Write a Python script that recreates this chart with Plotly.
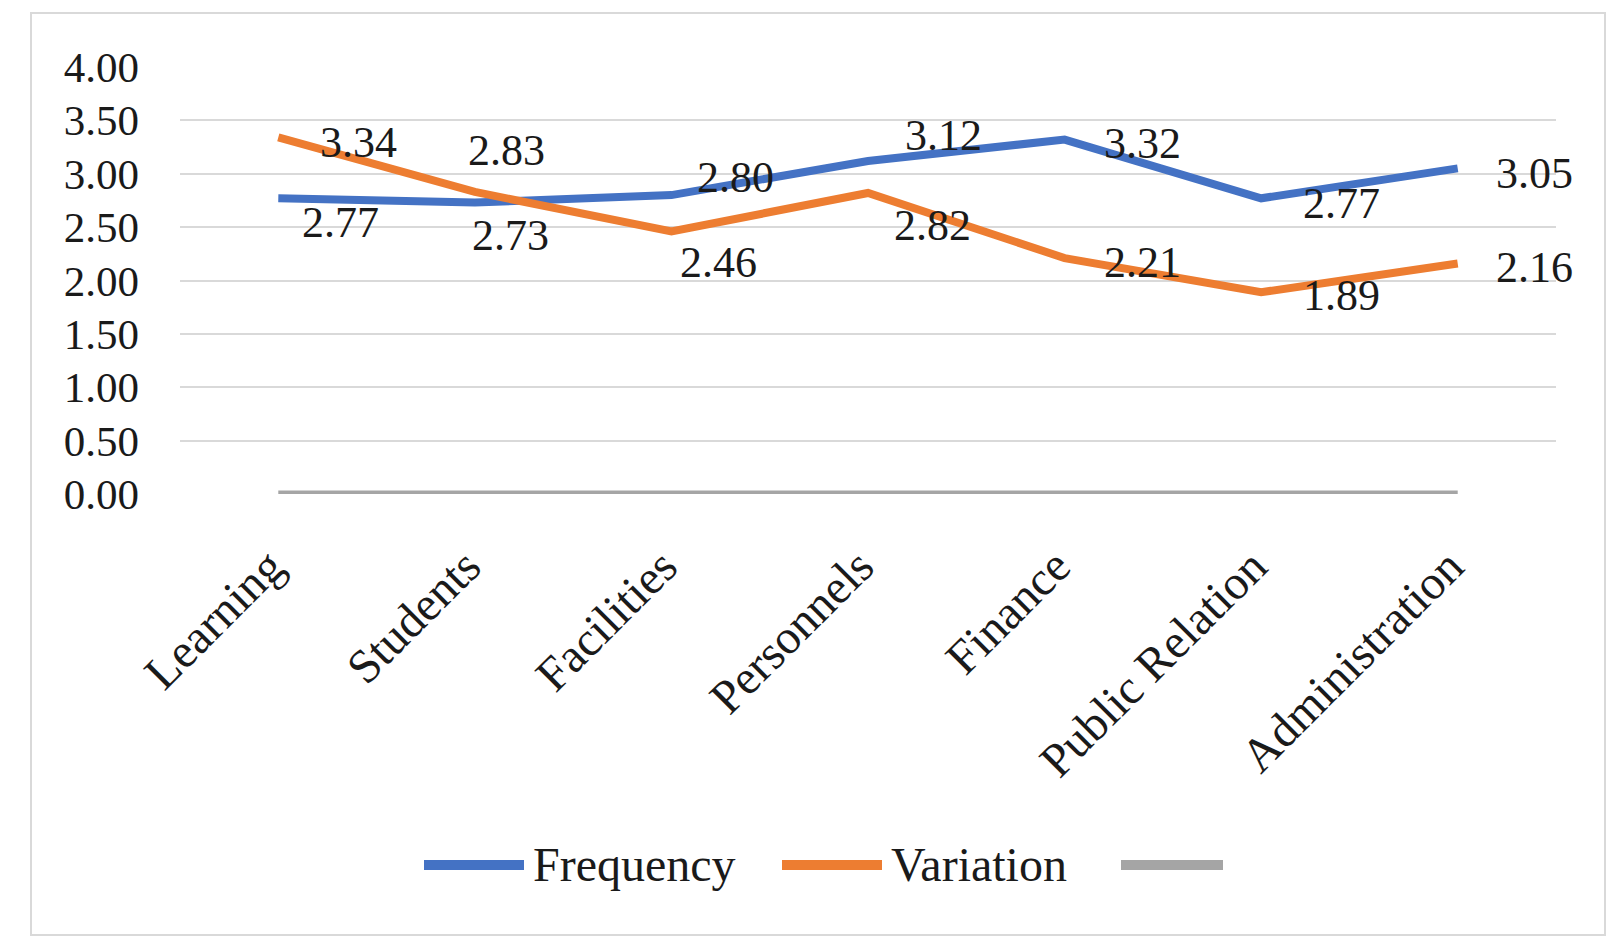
import plotly.graph_objects as go

categories = ["Learning", "Students", "Facilities", "Personnels", "Finance",
              "Public Relation", "Administration"]
frequency = [2.77, 2.73, 2.80, 3.12, 3.32, 2.77, 3.05]
variation = [3.34, 2.83, 2.46, 2.82, 2.21, 1.89, 2.16]
third_series = [0, 0, 0, 0, 0, 0, 0]
y_ticks = [0.0, 0.5, 1.0, 1.5, 2.0, 2.5, 3.0, 3.5, 4.0]

# label offsets in pixels (dx right, dy down) - styling only
freq_offsets = [(62, 24), (36, 33), (64, -18), (75, -25), (78, 4), (80, 5), (77, 5)]
var_offsets = [(80, 5), (32, -41), (47, 31), (64, 33), (78, 4), (80, 3), (77, 4)]

BLUE = "#4472C4"
ORANGE = "#ED7D31"
GRAY = "#A5A5A5"
FONT = "Liberation Serif"
TXT = "#1a1a1a"

fig = go.Figure()
fig.add_trace(go.Scatter(x=categories, y=third_series, mode="lines", name=" ",
                         line=dict(color=GRAY, width=7), showlegend=False))
fig.add_trace(go.Scatter(x=categories, y=frequency, mode="lines", name="Frequency",
                         line=dict(color=BLUE, width=8), showlegend=False))
fig.add_trace(go.Scatter(x=categories, y=variation, mode="lines", name="Variation",
                         line=dict(color=ORANGE, width=8), showlegend=False))

annotations = []
for cat, val, (dx, dy) in zip(categories, frequency, freq_offsets):
    annotations.append(dict(x=cat, y=val, xref="x", yref="y", text=f"{val:.2f}",
                            showarrow=False, xshift=dx, yshift=-dy,
                            font=dict(family=FONT, size=44, color=TXT)))
for cat, val, (dx, dy) in zip(categories, variation, var_offsets):
    annotations.append(dict(x=cat, y=val, xref="x", yref="y", text=f"{val:.2f}",
                            showarrow=False, xshift=dx, yshift=-dy,
                            font=dict(family=FONT, size=44, color=TXT)))

# custom legend (paper coordinates)
W, H = 1611, 938
L, R, T, B = 180, 55, 67, 444
pw, ph = W - L - R, H - T - B
def px(x):
    return (x - L) / pw
def py(y):
    return (H - B - y) / ph

shapes = []
legend_items = [("Frequency", BLUE, 424, 524, 531),
                ("Variation", ORANGE, 782, 882, 889),
                ("", GRAY, 1121, 1223, None)]
ly = 865
for name, col, x0, x1, tx in legend_items:
    shapes.append(dict(type="line", xref="paper", yref="paper",
                       x0=px(x0), x1=px(x1), y0=py(ly), y1=py(ly),
                       line=dict(color=col, width=10)))
    if tx is not None:
        annotations.append(dict(x=px(tx), y=py(ly), xref="paper", yref="paper",
                                text=name, showarrow=False, xanchor="left",
                                yanchor="middle",
                                font=dict(family=FONT, size=48, color=TXT)))

# chart border
shapes.append(dict(type="rect", xref="paper", yref="paper",
                   x0=px(31), x1=px(1605), y0=py(13), y1=py(935),
                   line=dict(color="#d9d9d9", width=2), layer="below"))

fig.update_layout(
    width=W, height=H,
    margin=dict(l=L, r=R, t=T, b=B),
    paper_bgcolor="white", plot_bgcolor="white",
    showlegend=False,
    annotations=annotations,
    shapes=shapes,
    font=dict(family=FONT, color=TXT),
)
fig.update_xaxes(type="category", range=[-0.5, 6.5], tickangle=-45,
                 tickvals=categories,
                 ticktext=[c + "\u00a0" for c in categories],
                 tickfont=dict(family=FONT, size=48, color=TXT),
                 showgrid=False, showline=False, zeroline=False, ticks="",
                 ticklabelstandoff=25)
fig.update_yaxes(range=[0, 4], tickvals=y_ticks, tickformat=".2f",
                 tickfont=dict(family=FONT, size=43, color=TXT),
                 showgrid=True, gridcolor="#d9d9d9", gridwidth=2,
                 zeroline=False, showline=False, ticks="",
                 ticklabelstandoff=40)

fig.write_html("out.html")
